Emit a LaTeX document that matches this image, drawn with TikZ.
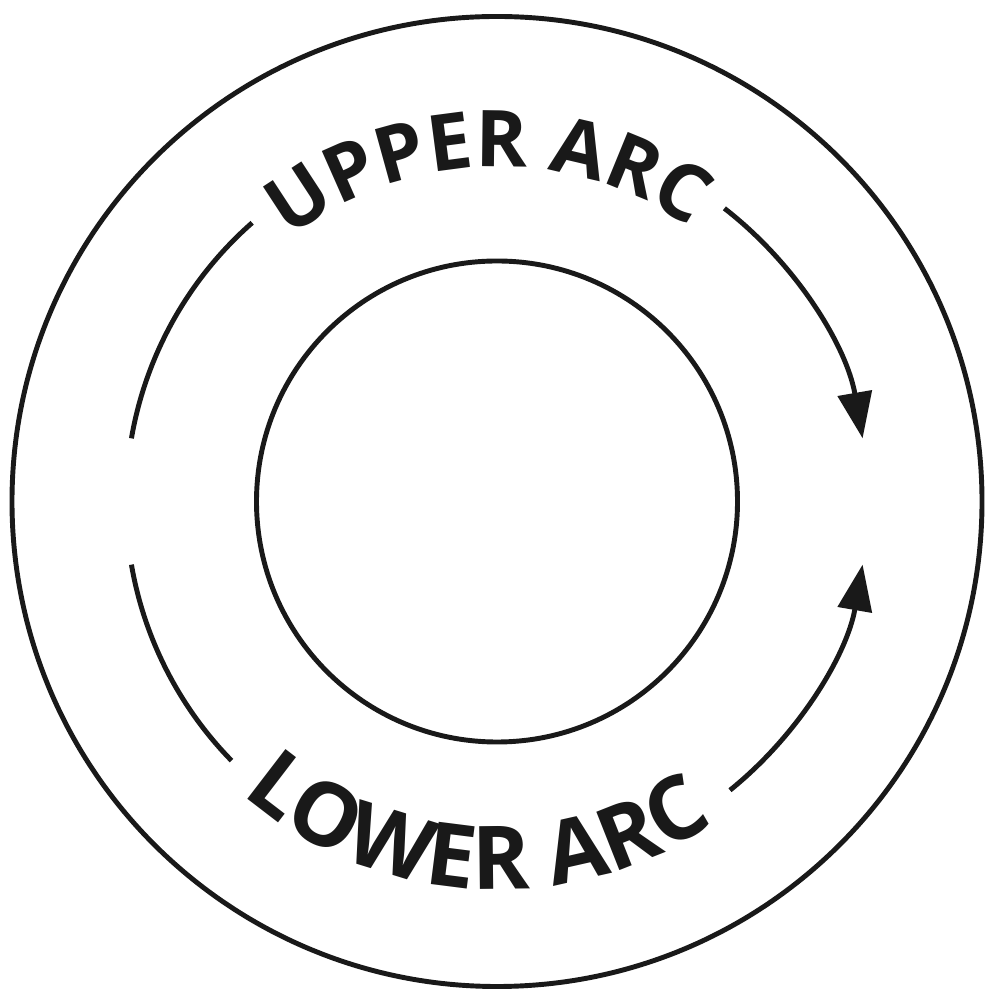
\documentclass[tikz,border=0pt]{standalone}
\usepackage{fontspec}
\setmainfont{Open Sans}
\usetikzlibrary{arrows.meta,decorations.text}
\tikzset{
  ring/.style={draw=black!90, line width=1.4pt},
  flow/.style={draw=black!90, line width=1.4pt},
  tip/.style={-{Triangle[length=0.46cm,width=0.34cm]}},
  arclabel/.style 2 args={decorate, decoration={text along path, text align=center,
     text={|\fontsize{#1}{#1}\bfseries\color{black!90}|#2}}}
}
\begin{document}
\begin{tikzpicture}
\useasboundingbox (-4.97,-4.985) rectangle (5.03,5.015);
\coordinate (c) at (0,0);
% circles
\draw[ring] (c) circle[radius=4.85];
\draw[ring] (c) circle[radius=2.405];
% upper arcs
\draw[flow] (170.2:3.71) arc[start angle=170.2, end angle=131.3, radius=3.71];
\draw[flow,tip] (52.2:3.71) arc[start angle=52.2, end angle=9.8, radius=3.71];
% lower arcs
\draw[flow] (-170.2:3.71) arc[start angle=-170.2, end angle=-135.7, radius=3.71];
\draw[flow,tip] (-51.1:3.71) arc[start angle=-51.1, end angle=-9.8, radius=3.71];
% labels
\path[arclabel={22.3}{UPPER ARC}] (131:3.35) arc[start angle=131, end angle=52, radius=3.35];
\path[arclabel={25}{LOWER ARC}] (-136:3.88) arc[start angle=-136, end angle=-51, radius=3.88];
\end{tikzpicture}
\end{document}
